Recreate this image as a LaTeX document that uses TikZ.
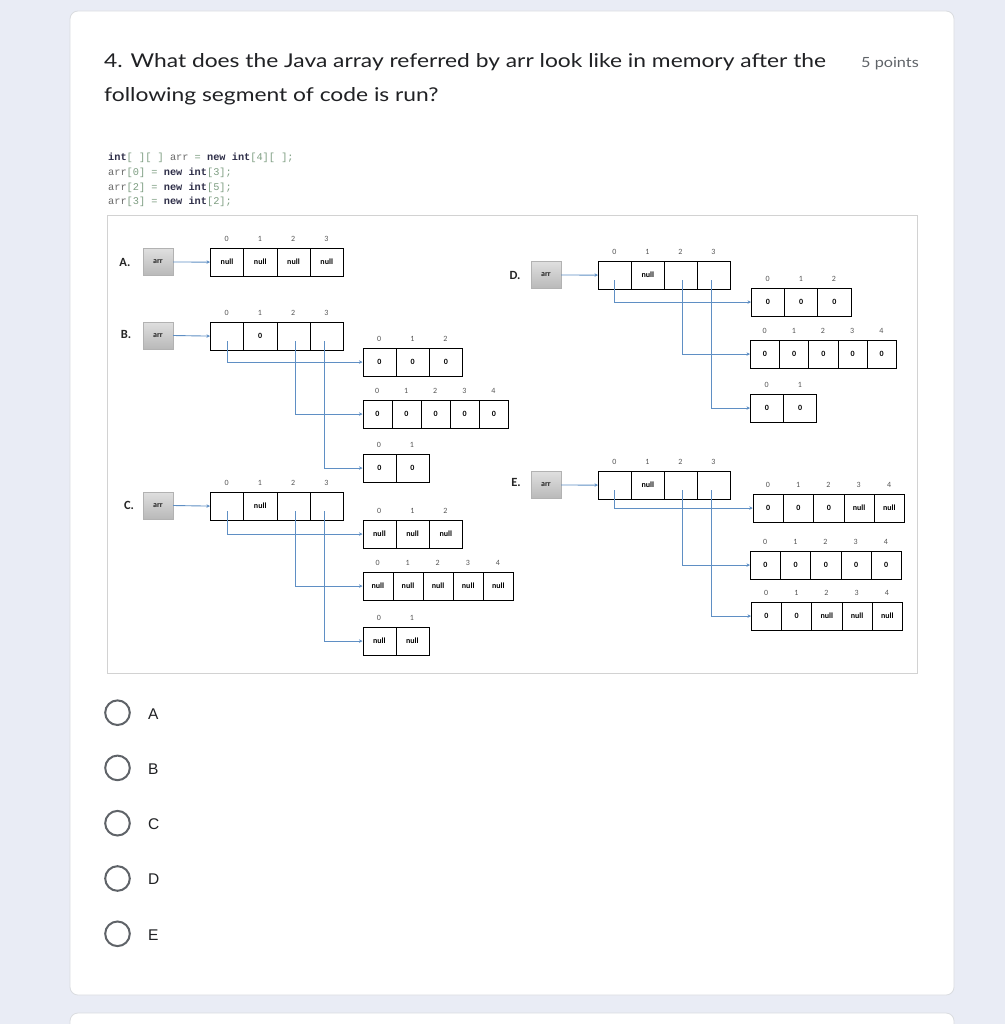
\documentclass[tikz,border=0pt]{standalone}
\usepackage{fontspec}
\setmainfont{Carlito}
\newfontfamily\titlefont[FakeStretch=1.2]{Lato}
\newfontfamily\ptsfont[FakeStretch=1.16]{Lato}
\newfontfamily\optfont{Liberation Sans}
\newfontfamily\codefont{Liberation Mono}
\usetikzlibrary{arrows.meta,calc}
\definecolor{pagebg}{HTML}{E9ECF5}
\definecolor{cardline}{HTML}{DADCE0}
\definecolor{txt}{HTML}{202124}
\definecolor{graytxt}{HTML}{5F6368}
\definecolor{ptrblue}{HTML}{5F8FC4}
\definecolor{kwc}{HTML}{2E2E48}
\definecolor{brc}{HTML}{7E9E82}
\definecolor{idc}{HTML}{6A6A6A}
\definecolor{idxc}{HTML}{555555}
\newcommand\kw[1]{\textcolor{kwc}{\bfseries #1}}
\newcommand\brk[1]{\textcolor{brc}{#1}}
\newcommand\idn[1]{\textcolor{idc}{#1}}
\newcommand\jarr[5]{%
  \foreach \c [count=\i from 0] in {#5}{%
    \node[cell, minimum width=#4pt] (#1-\i) at ({#2+\i*#4},#3) {\c};
    \node[idx] (#1-l\i) at ({#2+(\i+0.5)*#4},{#3-9.5}) {\i};
  }%
}
\begin{document}
\begin{tikzpicture}[x=1pt,y=-1pt,
  cell/.style={draw=black, line width=0.7pt, minimum height=27.5pt, inner sep=0pt,
    anchor=north west, font=\fontsize{8}{9}\selectfont\bfseries},
  idx/.style={inner sep=0pt, text=idxc, font=\fontsize{8}{9}\selectfont},
  arrbox/.style={draw=gray!60, line width=0.3pt, top color=gray!25, bottom color=gray!55,
    minimum width=30pt, minimum height=27pt, inner sep=0pt,
    font=\fontsize{8}{9}\selectfont\bfseries, text=black!85},
  lab/.style={inner sep=0pt, font=\fontsize{12.5}{13}\selectfont\bfseries, text=black!85},
  ptr/.style={draw=ptrblue, line width=0.9pt, -{Stealth[length=3.5pt,width=3.5pt]}},
  radio/.style={draw=graytxt, line width=2pt},
  opt/.style={inner sep=0pt, anchor=base west, text=txt, font=\optfont\fontsize{15.5}{18}\selectfont},
  codeline/.style={inner sep=0pt, anchor=base west, font=\codefont\fontsize{10.3}{12}\selectfont}
]
\useasboundingbox (0,0) rectangle (1005,1024);
\fill[pagebg] (0,0) rectangle (1005,1024);
% cards
\draw[cardline, fill=white, line width=0.8pt, rounded corners=8pt] (70,11) rectangle (954,995);
\draw[cardline, fill=white, line width=0.8pt, rounded corners=8pt] (70,1013) rectangle (954,1040);
% title
\node[inner sep=0pt, anchor=base west, text=txt, font=\titlefont\fontsize{19}{22}\selectfont] (q1) at (104,68)
  {4. What does the Java array referred by arr look like in memory after the};
\node[inner sep=0pt, anchor=base west, text=txt, font=\titlefont\fontsize{19}{22}\selectfont] (q2) at (104,102)
  {following segment of code is run?};
\node[inner sep=0pt, anchor=base west, text=graytxt, font=\ptsfont\fontsize{14}{16}\selectfont] (pts) at (861,68)
  {5 points};
% code
\node[codeline] (c1) at (108,161) {\kw{int}\brk{[ ][ ]} \idn{arr} \brk{=} \kw{new} \kw{int}\brk{[4][ ];}};
\node[codeline] (c2) at (108,176) {\idn{arr}\brk{[0]} \brk{=} \kw{new} \kw{int}\brk{[3];}};
\node[codeline] (c3) at (108,191) {\idn{arr}\brk{[2]} \brk{=} \kw{new} \kw{int}\brk{[5];}};
\node[codeline] (c4) at (108,205) {\idn{arr}\brk{[3]} \brk{=} \kw{new} \kw{int}\brk{[2];}};
% diagram frame
\draw[gray!35, line width=1pt] (107,216) rectangle (917,673);
% ---------- A
\node[lab] (A-lab) at (125,262) {A.};
\node[arrbox] (A-arr) at (158,262) {arr};
\jarr{A}{210}{248}{33.25}{null,null,null,null}
\draw[ptr] (A-arr.east) -- (A-0.west);
% ---------- B
\node[lab] (B-lab) at (126,334) {B.};
\node[arrbox] (B-arr) at (158,335.5) {arr};
\jarr{B}{210}{322}{33.25}{{},0,{},{}}
\draw[ptr] (B-arr.east) -- (B-0.west);
\jarr{B1}{362.5}{348}{33.2}{0,0,0}
\jarr{B2}{362.5}{400}{29.1}{0,0,0,0,0}
\jarr{B3}{362.5}{454}{33}{0,0}
\draw[ptr] ($(B-0.center)+(0,5)$) |- (B1-0.west);
\draw[ptr] ($(B-2.center)+(2,5)$) |- (B2-0.west);
\draw[ptr] ($(B-3.center)+(-2,5)$) |- (B3-0.west);
% ---------- C
\node[lab] (C-lab) at (129,505) {C.};
\node[arrbox] (C-arr) at (158,505.5) {arr};
\jarr{C}{210}{492}{33.25}{{},null,{},{}}
\draw[ptr] (C-arr.east) -- (C-0.west);
\jarr{C1}{362.5}{520}{33.2}{null,null,null}
\jarr{C2}{362.5}{572}{30.1}{null,null,null,null,null}
\jarr{C3}{362.5}{627}{33}{null,null}
\draw[ptr] ($(C-0.center)+(0,5)$) |- (C1-0.west);
\draw[ptr] ($(C-2.center)+(2,5)$) |- (C2-0.west);
\draw[ptr] ($(C-3.center)+(-2,5)$) |- (C3-0.west);
% ---------- D
\node[lab] (D-lab) at (515,275) {D.};
\node[arrbox] (D-arr) at (546,275) {arr};
\jarr{D}{598}{261}{33}{{},null,{},{}}
\draw[ptr] (D-arr.east) -- (D-0.west);
\jarr{D1}{751}{288}{33.2}{0,0,0}
\jarr{D2}{750}{340}{29.2}{0,0,0,0,0}
\jarr{D3}{750}{394}{33.2}{0,0}
\draw[ptr] ($(D-0.center)+(0,5)$) |- (D1-0.west);
\draw[ptr] ($(D-2.center)+(2,5)$) |- (D2-0.west);
\draw[ptr] ($(D-3.center)+(-2,5)$) |- (D3-0.west);
% ---------- E
\node[lab] (E-lab) at (516,482) {E.};
\node[arrbox] (E-arr) at (546,485) {arr};
\jarr{E}{598}{471}{33}{{},null,{},{}}
\draw[ptr] (E-arr.east) -- (E-0.west);
\jarr{E1}{752.7}{494}{30.3}{0,0,0,null,null}
\jarr{E2}{750}{551}{30.2}{0,0,0,0,0}
\jarr{E3}{751}{602}{30.2}{0,0,null,null,null}
\draw[ptr] ($(E-0.center)+(0,5)$) |- (E1-0.west);
\draw[ptr] ($(E-2.center)+(2,5)$) |- (E2-0.west);
\draw[ptr] ($(E-3.center)+(-2,5)$) |- (E3-0.west);
% ---------- options
\foreach \l/\yy [count=\k] in {A/712.7,B/767.9,C/823.2,D/878.5,E/933.8}{
  \draw[radio] (117.5,\yy) circle[radius=12.3pt];
  \node[opt] (opt\k) at (148,{\yy+6.3}) {\l};
}
\end{tikzpicture}
\end{document}
